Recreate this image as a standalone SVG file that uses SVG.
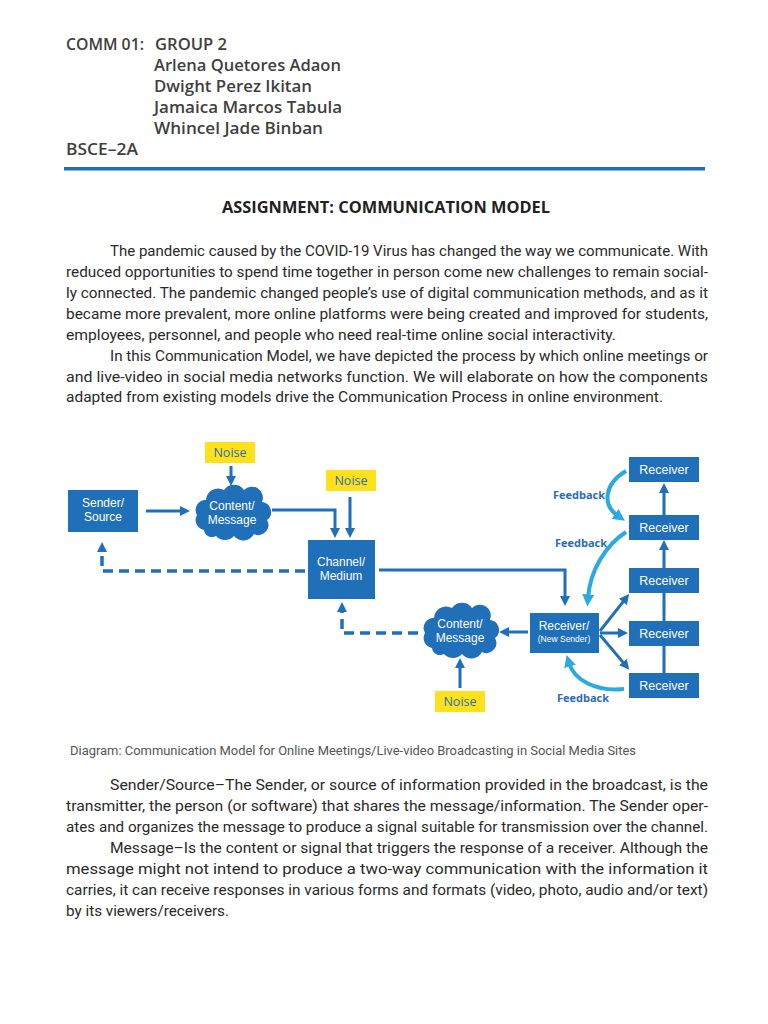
<svg xmlns="http://www.w3.org/2000/svg" width="768" height="1024" viewBox="0 0 768 1024">
<style>
.hd{font-family:"Open Sans","Noto Sans",sans-serif;font-weight:600;font-size:16.5px;fill:#3f3f3f}
.tt{font-family:"Open Sans","Noto Sans",sans-serif;font-weight:700;font-size:15.5px;fill:#222}
.bd{font-family:Roboto,"Liberation Sans",sans-serif;font-size:15px;fill:#2a2a2a}
.cap{font-family:Roboto,"Liberation Sans",sans-serif;font-size:12.5px;fill:#555}
.bx{fill:#1f6fb9}
.wt{font-family:"Liberation Sans",Arial,sans-serif;font-size:12.5px;fill:#fff;text-anchor:middle}
.w2{font-family:"Liberation Sans",Arial,sans-serif;font-size:12px;fill:#fff;text-anchor:middle}
.ws{font-size:8.5px}
.nz{fill:#fde11b}
.nt{font-family:"Open Sans","Noto Sans",sans-serif;font-size:12.5px;fill:#2a6db5;text-anchor:middle}
.fb{font-family:"Open Sans","Noto Sans",sans-serif;font-weight:700;font-size:11px;fill:#2b6db4}
.ln{fill:none;stroke:#1f6fb9;stroke-width:3;marker-end:url(#ah)}
.pl{fill:none;stroke:#1f6fb9;stroke-width:3}
.ds{fill:none;stroke:#1f6fb9;stroke-width:3.5;stroke-dasharray:10 6;marker-end:url(#ah)}
.fk{fill:none;stroke:#2aa9e2;stroke-width:4;marker-end:url(#ahl)}
</style>
<defs>
<marker id="ah" viewBox="0 0 10 10" refX="3" refY="5" markerWidth="10" markerHeight="10" markerUnits="userSpaceOnUse" orient="auto"><path d="M0,0 L10,5 L0,10 z" fill="#1f6fb9"/></marker>
<marker id="ahl" viewBox="0 0 10 10" refX="3" refY="5" markerWidth="12" markerHeight="12" markerUnits="userSpaceOnUse" orient="auto"><path d="M0,0 L10,5 L0,10 z" fill="#2aa9e2"/></marker>
<path id="cloud" d="M -28,18 A 10 10 0 0 1 -35,3 A 10 10 0 0 1 -26,-12 A 12 12 0 0 1 -8,-22 A 12 12 0 0 1 12,-22 A 11 11 0 0 1 30,-10 A 10 10 0 0 1 35,8 A 10 10 0 0 1 22,22 A 12 12 0 0 1 2,24 A 12 12 0 0 1 -16,24 A 8 8 0 0 1 -28,18 Z" fill="#1f6fb9"/>
</defs>
<rect width="768" height="1024" fill="#fff"/>

<g id="header">
<text class="hd" x="66" y="50" textLength="78" lengthAdjust="spacingAndGlyphs">COMM 01:</text>
<text class="hd" x="155" y="50" textLength="72" lengthAdjust="spacingAndGlyphs">GROUP 2</text>
<text class="hd" x="154" y="71" textLength="187" lengthAdjust="spacingAndGlyphs">Arlena Quetores Adaon</text>
<text class="hd" x="154" y="92" textLength="158" lengthAdjust="spacingAndGlyphs">Dwight Perez Ikitan</text>
<text class="hd" x="154" y="113" textLength="188" lengthAdjust="spacingAndGlyphs">Jamaica Marcos Tabula</text>
<text class="hd" x="154" y="134" textLength="169" lengthAdjust="spacingAndGlyphs">Whincel Jade Binban</text>
<text class="hd" x="66" y="155" textLength="72" lengthAdjust="spacingAndGlyphs">BSCE–2A</text>
<rect x="64" y="167" width="641" height="3.5" fill="#1f6fb9"/>
<text class="tt" x="222" y="213" textLength="328" lengthAdjust="spacingAndGlyphs">ASSIGNMENT: COMMUNICATION MODEL</text>
</g>

<g id="intro">
<text class="bd" x="110" y="256" textLength="598" lengthAdjust="spacingAndGlyphs">The pandemic caused by the COVID-19 Virus has changed the way we communicate. With</text>
<text class="bd" x="66" y="277" textLength="642" lengthAdjust="spacingAndGlyphs">reduced opportunities to spend time together in person come new challenges to remain social-</text>
<text class="bd" x="66" y="298" textLength="642" lengthAdjust="spacingAndGlyphs">ly connected. The pandemic changed people’s use of digital communication methods, and as it</text>
<text class="bd" x="66" y="319" textLength="642" lengthAdjust="spacingAndGlyphs">became more prevalent, more online platforms were being created and improved for students,</text>
<text class="bd" x="66" y="340" textLength="550" lengthAdjust="spacingAndGlyphs">employees, personnel, and people who need real-time online social interactivity.</text>
<text class="bd" x="110" y="361" textLength="598" lengthAdjust="spacingAndGlyphs">In this Communication Model, we have depicted the process by which online meetings or</text>
<text class="bd" x="66" y="382" textLength="642" lengthAdjust="spacingAndGlyphs">and live-video in social media networks function. We will elaborate on how the components</text>
<text class="bd" x="66" y="402" textLength="597" lengthAdjust="spacingAndGlyphs">adapted from existing models drive the Communication Process in online environment.</text>
</g>

<g id="connectors">
<line class="ln" x1="146" y1="511" x2="183" y2="511"/>
<line class="ln" x1="231" y1="466" x2="231" y2="479"/>
<line class="ln" x1="350" y1="497" x2="350" y2="531"/>
<polyline class="ln" points="272,510 335,510 335,531"/>
<polyline class="ds" points="305,571 102,571 102,549"/>
<polyline class="ln" points="379,570 565,570 565,599"/>
<line class="ln" x1="528" y1="632" x2="506" y2="632"/>
<line class="ln" x1="460" y1="688" x2="460" y2="665"/>
<polyline class="ds" points="418,633 342,633 342,609"/>
<line class="ln" x1="664" y1="515" x2="664" y2="490"/>
<line class="ln" x1="664" y1="568" x2="664" y2="547"/>
<line class="pl" x1="664" y1="593" x2="664" y2="621"/>
<line class="pl" x1="664" y1="646" x2="664" y2="673"/>
<line class="ln" x1="600" y1="631" x2="624.8" y2="599.6"/>
<line class="ln" x1="600" y1="633" x2="621" y2="633"/>
<line class="ln" x1="600" y1="635" x2="624.8" y2="664.4"/>
<path class="fk" d="M 626,471 C 604,484 602,505 618,516"/>
<path class="fk" d="M 626,532 C 606,545 590,570 588,598"/>
<path class="fk" d="M 624,689 C 596,692 574,680 569,663"/>
<text class="fb" x="553" y="499">Feedback</text>
<text class="fb" x="555" y="547">Feedback</text>
<text class="fb" x="557" y="702">Feedback</text>
</g>

<g id="sender">
<rect class="bx" x="68" y="490" width="70" height="42"/>
<text class="w2" x="103" y="507">Sender/<tspan x="103" dy="14">Source</tspan></text>
</g>
<g id="content1">
<use href="#cloud" x="232" y="512"/>
<text class="w2" x="232" y="510">Content/<tspan x="232" dy="14">Message</tspan></text>
</g>
<g id="noise1">
<rect class="nz" x="205" y="442" width="50" height="21"/>
<text class="nt" x="230" y="457">Noise</text>
</g>
<g id="noise2">
<rect class="nz" x="326" y="470" width="50" height="21"/>
<text class="nt" x="351" y="485">Noise</text>
</g>
<g id="channel">
<rect class="bx" x="308" y="540" width="67" height="59"/>
<text class="w2" x="341" y="566">Channel/<tspan x="341" dy="14">Medium</tspan></text>
</g>
<g id="newsender">
<rect class="bx" x="530" y="613" width="69" height="40"/>
<text class="w2" x="564" y="630">Receiver/<tspan class="ws" x="564" dy="12">(New Sender)</tspan></text>
</g>
<g id="content2">
<use href="#cloud" x="460" y="630"/>
<text class="w2" x="460" y="628">Content/<tspan x="460" dy="14">Message</tspan></text>
</g>
<g id="noise3">
<rect class="nz" x="435" y="691" width="50" height="21"/>
<text class="nt" x="460" y="706">Noise</text>
</g>
<g id="receiver1"><rect class="bx" x="629" y="457" width="70" height="25"/><text class="wt" x="664" y="474">Receiver</text></g>
<g id="receiver2"><rect class="bx" x="629" y="515" width="70" height="25"/><text class="wt" x="664" y="532">Receiver</text></g>
<g id="receiver3"><rect class="bx" x="629" y="568" width="70" height="25"/><text class="wt" x="664" y="585">Receiver</text></g>
<g id="receiver4"><rect class="bx" x="629" y="621" width="70" height="25"/><text class="wt" x="664" y="638">Receiver</text></g>
<g id="receiver5"><rect class="bx" x="629" y="673" width="70" height="25"/><text class="wt" x="664" y="690">Receiver</text></g>

<g id="caption">
<text class="cap" x="70" y="755" textLength="566" lengthAdjust="spacingAndGlyphs">Diagram: Communication Model for Online Meetings/Live-video Broadcasting in Social Media Sites</text>
</g>

<g id="body">
<text class="bd" x="110" y="790" textLength="598" lengthAdjust="spacingAndGlyphs">Sender/Source–The Sender, or source of information provided in the broadcast, is the</text>
<text class="bd" x="66" y="811" textLength="642" lengthAdjust="spacingAndGlyphs">transmitter, the person (or software) that shares the message/information. The Sender oper-</text>
<text class="bd" x="66" y="832" textLength="642" lengthAdjust="spacingAndGlyphs">ates and organizes the message to produce a signal suitable for transmission over the channel.</text>
<text class="bd" x="110" y="853" textLength="598" lengthAdjust="spacingAndGlyphs">Message–Is the content or signal that triggers the response of a receiver. Although the</text>
<text class="bd" x="66" y="874" textLength="642" lengthAdjust="spacingAndGlyphs">message might not intend to produce a two-way communication with the information it</text>
<text class="bd" x="66" y="895" textLength="642" lengthAdjust="spacingAndGlyphs">carries, it can receive responses in various forms and formats (video, photo, audio and/or text)</text>
<text class="bd" x="66" y="916" textLength="163" lengthAdjust="spacingAndGlyphs">by its viewers/receivers.</text>
</g>
</svg>
